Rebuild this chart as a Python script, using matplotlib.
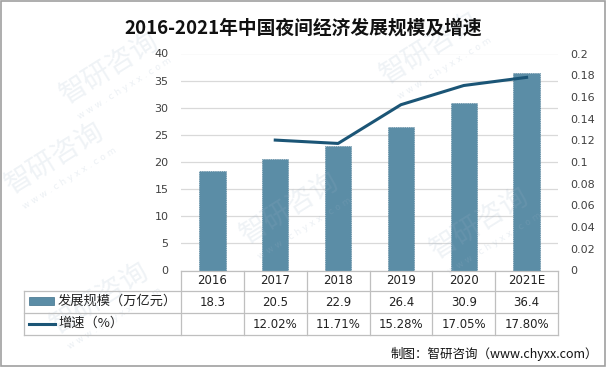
import numpy as np
import matplotlib as mpl
import matplotlib.pyplot as plt
from matplotlib.transforms import blended_transform_factory
from matplotlib.patches import Rectangle
from matplotlib.lines import Line2D

plt.rcParams['font.family'] = ['DejaVu Sans', 'Noto Sans CJK SC']

# data
years = ['2016', '2017', '2018', '2019', '2020', '2021E']
scale = [18.3, 20.5, 22.9, 26.4, 30.9, 36.4]          # 万亿元
growth = [None, 0.1202, 0.1171, 0.1528, 0.1705, 0.1780]
growth_labels = ['', '12.02%', '11.71%', '15.28%', '17.05%', '17.80%']
series_names = ['发展规模（万亿元）', '增速（%）']
title = '2016-2021年中国夜间经济发展规模及增速'
source = '制图：智研咨询（www.chyxx.com）'

W, H = 606, 367
bar_color = '#5B8DA6'
line_color = '#1B5576'
grid_color = '#D9D9D9'
tick_color = '#404040'

fig = plt.figure(figsize=(W / 100, H / 100), dpi=100)

def fy(px):
    return 1 - px / H

def fx(px):
    return px / W

# watermarks (kept inside the frame)
for (x, y) in [(70, 110), (15, 200), (250, 250), (390, 90), (440, 265), (60, 340)]:
    fig.text(fx(x), fy(y), '智研咨询', fontsize=20, color='#9DB3C8', alpha=0.16,
             rotation=32, rotation_mode='anchor', family=['Noto Sans CJK SC'],
             ha='left', va='bottom', zorder=0)
    fig.text(fx(x + 6), fy(y + 3), 'w w w . c h y x x . c o m', fontsize=6.5, color='#9DB3C8',
             alpha=0.2, rotation=32, rotation_mode='anchor', ha='left', va='top', zorder=0)

ax_l, ax_r, ax_t, ax_b = 181, 558, 53.5, 270.5
ax = fig.add_axes([fx(ax_l), fy(ax_b), (ax_r - ax_l) / W, (ax_b - ax_t) / H])
ax.set_facecolor('none')
x = np.arange(len(years))
ax.bar(x, scale, width=0.42, color=bar_color, edgecolor='#3E6F8A', linewidth=0.5,
       linestyle=':', zorder=3)
ax.set_xlim(-0.5, len(years) - 0.5)
ax.set_ylim(0, 40)
ax.set_yticks(np.arange(0, 41, 5))
ax.yaxis.grid(True, color=grid_color, linewidth=0.9, zorder=0)
ax.set_xticks([])
for s in ax.spines.values():
    s.set_visible(False)
ax.tick_params(axis='y', length=0, pad=9, labelsize=8, labelcolor=tick_color)

ax2 = ax.twinx()
gx = [i for i, g in enumerate(growth) if g is not None]
gy = [g for g in growth if g is not None]
ax2.plot(gx, gy, color=line_color, linewidth=2.2, zorder=4)
ax2.set_ylim(0, 0.2)
ax2.set_yticks(np.arange(0, 0.201, 0.02))
ax2.set_yticklabels([f'{v:g}' for v in np.round(np.arange(0, 0.201, 0.02), 2)])
for s in ax2.spines.values():
    s.set_visible(False)
ax2.tick_params(axis='y', length=0, pad=9, labelsize=8, labelcolor=tick_color)

# data table under the chart
tr = blended_transform_factory(ax.transData, fig.transFigure)
tbl_color = '#BFBFBF'
row_lines = [270.5, 290.7, 312.7, 335]
left_px = 24
for i, yp in enumerate(row_lines):
    if i == 0:
        fig.add_artist(Line2D([-0.5, len(years) - 0.5], [fy(yp), fy(yp)], transform=tr,
                              color=tbl_color, linewidth=0.9))
    else:
        fig.add_artist(Line2D([fx(left_px), fx(ax_r)], [fy(yp), fy(yp)],
                              transform=fig.transFigure, color=tbl_color, linewidth=0.9))
for k in range(len(years) + 1):
    xv = k - 0.5
    fig.add_artist(Line2D([xv, xv], [fy(row_lines[0]), fy(row_lines[-1])], transform=tr,
                          color=tbl_color, linewidth=0.9))
fig.add_artist(Line2D([fx(left_px), fx(left_px)], [fy(row_lines[1]), fy(row_lines[-1])],
                      transform=fig.transFigure, color=tbl_color, linewidth=0.9))

for i, yr in enumerate(years):
    fig.text(i, fy(281), yr, transform=tr, ha='center', va='center', fontsize=8.5, color='#222222')
    fig.text(i, fy(302), f'{scale[i]:.1f}', transform=tr, ha='center', va='center',
             fontsize=8.5, color='#222222')
    fig.text(i, fy(324), growth_labels[i], transform=tr, ha='center', va='center',
             fontsize=8.5, color='#222222')

# legend keys inside the table
fig.add_artist(Rectangle((fx(29), fy(305)), fx(25), (8 / H), transform=fig.transFigure,
                         facecolor=bar_color, edgecolor='#3E6F8A', linewidth=0.5))
fig.add_artist(Line2D([fx(29), fx(55)], [fy(324), fy(324)], transform=fig.transFigure,
                      color=line_color, linewidth=2.2))
fig.text(fx(58), fy(301.5), series_names[0], ha='left', va='center', fontsize=9.5,
         family=['Noto Sans CJK SC'], color='#222222')
fig.text(fx(58), fy(323.5), series_names[1], ha='left', va='center', fontsize=9.5,
         family=['Noto Sans CJK SC'], color='#222222')

# title and source
fig.text(fx(303), fy(28), title, ha='center', va='center', fontsize=13.5, fontweight='bold',
         family=['Noto Sans CJK SC'], color='#111111')
fig.text(fx(598), fy(354), source, ha='right', va='center', fontsize=9,
         family=['Noto Sans CJK SC'], color='#111111')

# outer frame
fig.add_artist(Rectangle((0.001, 0.002), 0.997, 0.995, transform=fig.transFigure,
                         fill=False, edgecolor='#A0A0A0', linewidth=1.2))

fig.savefig('out.png', dpi=100)
